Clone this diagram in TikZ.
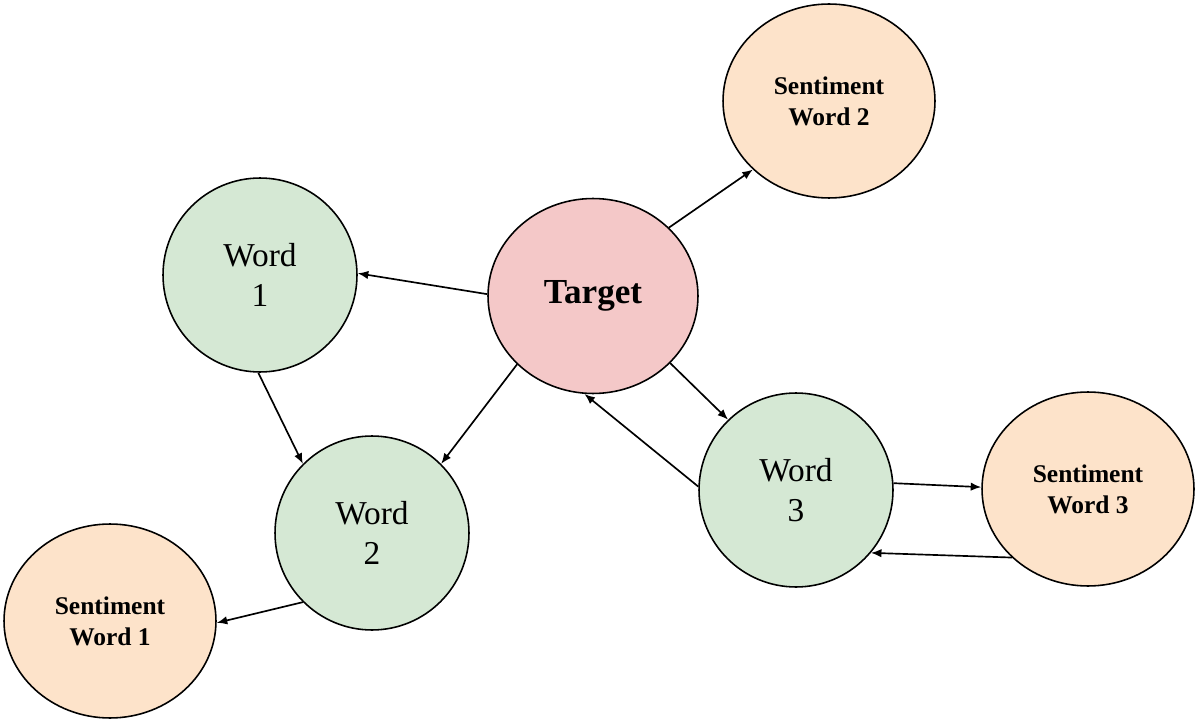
\documentclass[tikz,border=0pt]{standalone}
\usepackage{fontspec}
\setmainfont{Liberation Serif}
\usetikzlibrary{shapes.geometric,arrows.meta}
\definecolor{wgreen}{HTML}{D5E8D4}
\definecolor{sorange}{HTML}{FDE3CA}
\definecolor{tpink}{HTML}{F4C8C8}
\tikzset{
  wordnode/.style={circle,draw=black,line width=0.9pt,fill=wgreen,minimum size=3.88cm,inner sep=0pt,align=center,
    font=\fontsize{19}{22.7}\selectfont},
  sentnode/.style={ellipse,draw=black,line width=0.9pt,fill=sorange,minimum width=4.24cm,minimum height=3.88cm,inner sep=0pt,align=center,
    font=\fontsize{14.5}{17.6}\selectfont\bfseries},
  targetnode/.style={ellipse,draw=black,line width=0.9pt,fill=tpink,minimum width=4.2cm,minimum height=3.9cm,inner sep=0pt,align=center,
    font=\fontsize{20}{24}\selectfont\bfseries},
  conn/.style={line width=0.95pt,-{Latex[length=6pt,width=4.8pt]}}
}
\begin{document}
\begin{tikzpicture}[x=0.02cm,y=-0.02cm]
\useasboundingbox (0,0) rectangle (1200,726);
\node[targetnode] (T) at (593,296) {\raisebox{-0.1cm}{Target}};
\node[wordnode] (W1) at (260,275) {Word\\1};
\node[wordnode] (W2) at (372,533) {Word\\2};
\node[wordnode] (W3) at (796,490) {Word\\3};
\node[sentnode] (S1) at (110,621) {Sentiment\\Word 1};
\node[sentnode] (S2) at (829,101) {Sentiment\\Word 2};
\node[sentnode] (S3) at (1088,489) {Sentiment\\Word 3};
\draw[conn] (T.179) -- (W1.1);
\draw[conn] (T.222) -- (W2.45);
\draw[conn] (W1.269) -- (W2.135);
\draw[conn] (T.42) -- (S2.222);
\draw[conn] (T.319) -- (W3.134);
\draw[conn] (W3.178) -- (T.265);
\draw[conn] (W3.4) -- (S3.179.5);
\draw[conn] (S3.222) -- (W3.320);
\draw[conn] (W2.225) -- (S1.359.5);
\end{tikzpicture}
\end{document}
